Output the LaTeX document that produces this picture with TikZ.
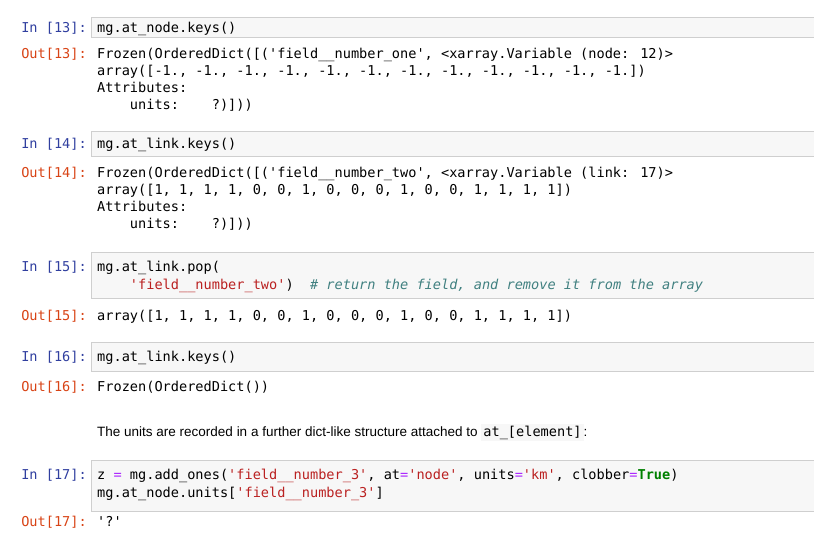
\documentclass[tikz,border=0pt]{standalone}
\usepackage{fontspec}
\setmainfont{Liberation Sans}
\newfontfamily\mono{DejaVu Sans Mono}
\definecolor{inblue}{HTML}{303F9F}
\definecolor{outred}{HTML}{D84315}
\definecolor{cellbg}{HTML}{F7F7F7}
\definecolor{cellbd}{HTML}{CFCFCF}
\definecolor{str}{HTML}{BA2121}
\definecolor{cmt}{HTML}{408080}
\definecolor{op}{HTML}{AA22FF}
\definecolor{kw}{HTML}{008000}
\newcommand\spc[1]{\hspace*{#1\fontcharwd\font`\x}}
\newcommand\s[1]{\textcolor{str}{#1}}
\begin{document}
\begin{tikzpicture}[x=1pt,y=-1pt,
  code/.style={anchor=base west,inner sep=0pt,font=\fontsize{13.6}{17}\mono},
  inlab/.style={anchor=base east,inner sep=0pt,font=\fontsize{13.6}{17}\mono,text=inblue},
  outlab/.style={anchor=base east,inner sep=0pt,font=\fontsize{13.6}{17}\mono,text=outred},
  cell/.style={fill=cellbg,draw=cellbd,line width=0.8pt}]
\useasboundingbox (0,0) rectangle (814,544);
% cells
\draw[cell] (91,17) rectangle (814,37);
\draw[cell] (91,131) rectangle (814,156);
\draw[cell] (91,252) rectangle (814,298);
\draw[cell] (91,342) rectangle (814,371);
\draw[cell] (91,460) rectangle (814,511);
% In 13
\node[inlab] (i13) at (87,32) {In [13]:};
\node[code] (c13) at (97,32) {mg.at\_node.keys()};
\node[outlab] (o13) at (87,58) {Out[13]:};
\node[code] (r13) at (97,58) {\begin{tabular}[t]{@{}l@{}}
Frozen(OrderedDict([('field\_\_number\_one', <xarray.Variable (node: 12)>\\
array([-1., -1., -1., -1., -1., -1., -1., -1., -1., -1., -1., -1.])\\
Attributes:\\
\spc{4}units:\spc{4}?)]))\end{tabular}};
% In 14
\node[inlab] (i14) at (87,148) {In [14]:};
\node[code] (c14) at (97,148) {mg.at\_link.keys()};
\node[outlab] (o14) at (87,177) {Out[14]:};
\node[code] (r14) at (97,177) {\begin{tabular}[t]{@{}l@{}}
Frozen(OrderedDict([('field\_\_number\_two', <xarray.Variable (link: 17)>\\
array([1, 1, 1, 1, 0, 0, 1, 0, 0, 0, 1, 0, 0, 1, 1, 1, 1])\\
Attributes:\\
\spc{4}units:\spc{4}?)]))\end{tabular}};
% In 15
\node[inlab] (i15) at (87,271) {In [15]:};
\node[code] (c15) at (97,271) {mg.at\_link.pop(};
\node[code] (c15b) at (97,289) {\spc{4}\s{'field\_\_number\_two'})\spc{2}\textcolor{cmt}{\itshape\# return the field, and remove it from the array}};
\node[outlab] (o15) at (87,320) {Out[15]:};
\node[code] (r15) at (97,320) {array([1, 1, 1, 1, 0, 0, 1, 0, 0, 0, 1, 0, 0, 1, 1, 1, 1])};
% In 16
\node[inlab] (i16) at (87,361) {In [16]:};
\node[code] (c16) at (97,361) {mg.at\_link.keys()};
\node[outlab] (o16) at (87,391) {Out[16]:};
\node[code] (r16) at (97,391) {Frozen(OrderedDict())};
% markdown
\node[anchor=base west,inner sep=0pt,font=\fontsize{13.5}{16}\selectfont] (md) at (97,436) {The units are recorded in a further dict-like structure attached to \tikz[baseline=(t.base)]\node[fill=cellbg,inner sep=2pt,font=\fontsize{13.6}{16}\mono] (t) {at\_[element]};:};
% In 17
\node[inlab] (i17) at (87,479) {In [17]:};
\node[code] (c17) at (97,479) {z \textcolor{op}{=} mg.add\_ones(\s{'field\_\_number\_3'}, at\textcolor{op}{=}\s{'node'}, units\textcolor{op}{=}\s{'km'}, clobber\textcolor{op}{=}\textcolor{kw}{\bfseries True})};
\node[code] (c17b) at (97,497) {mg.at\_node.units[\s{'field\_\_number\_3'}]};
\node[outlab] (o17) at (87,526) {Out[17]:};
\node[code] (r17) at (97,526) {'?'};
\end{tikzpicture}
\end{document}
